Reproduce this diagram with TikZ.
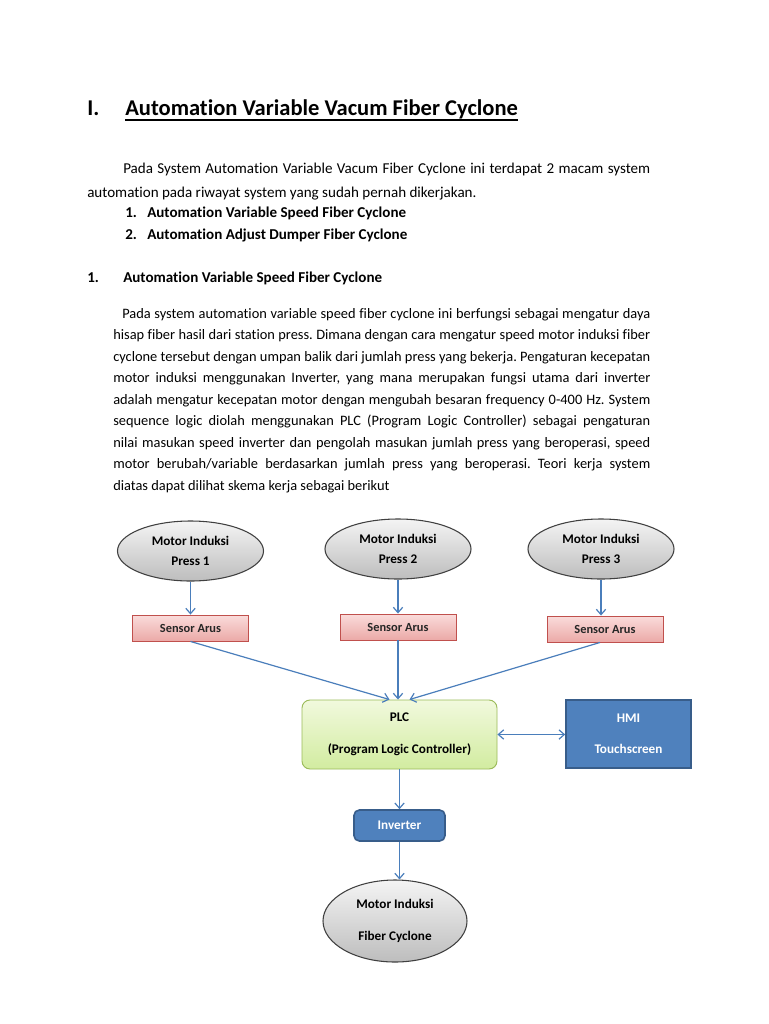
\documentclass[tikz,border=0pt]{standalone}
\usepackage{fontspec}
\setmainfont{Carlito}[Ligatures={NoCommon}]
\usetikzlibrary{shapes.geometric,arrows.meta}
\definecolor{arrblue}{HTML}{4A7EBB}
\definecolor{hmiblue}{HTML}{4F81BD}
\definecolor{hmiedge}{HTML}{385D8A}
\definecolor{senedge}{HTML}{C0504D}
\definecolor{sentop}{HTML}{FADCDB}
\definecolor{senbot}{HTML}{EBA9A7}
\definecolor{plctop}{HTML}{F1F9DD}
\definecolor{plcbot}{HTML}{D2ECA0}
\definecolor{plcedge}{HTML}{9BBB59}
\definecolor{elltop}{HTML}{F4F4F4}
\definecolor{ellbot}{HTML}{BDBDBD}
\newcommand\jline[1]{\hbox to\linewidth{#1}}
\frenchspacing
\begin{document}
\begin{tikzpicture}[x=0.75pt,y=-0.75pt,
  txt/.style={anchor=base west,inner sep=0pt,font=\fontsize{11.3}{16}\selectfont},
  btxt/.style={txt,font=\fontsize{11.3}{16}\selectfont\bfseries},
  para/.style={anchor=base west,inner sep=0pt,align=left},
  dfont/.style={font=\fontsize{9.3}{15}\selectfont\bfseries},
  efont/.style={font=\fontsize{9.9}{15}\selectfont\bfseries},
  ell/.style={ellipse,draw=black!75,line width=0.8pt,top color=elltop,bottom color=ellbot,
    minimum width=109.5pt,minimum height=45pt,inner sep=0pt,align=center,efont},
  sensor/.style={rectangle,draw=senedge,line width=0.7pt,top color=sentop,bottom color=senbot,
    minimum width=87pt,minimum height=19.5pt,inner sep=0pt,dfont,text=black!85},
  plcbox/.style={rectangle,rounded corners=6pt,draw=plcedge,line width=0.7pt,top color=plctop,bottom color=plcbot,
    minimum width=146.25pt,minimum height=51.75pt,inner sep=0pt,align=center,efont},
  bluebox/.style={rectangle,draw=hmiedge,line width=1.2pt,fill=hmiblue,text=white,inner sep=0pt,align=center,efont},
  arr/.style={draw=arrblue,line width=0.9pt,-{Straight Barb[length=4pt,width=7pt]}},
  darr/.style={draw=arrblue,line width=0.9pt,{Straight Barb[length=4pt,width=7pt]}-{Straight Barb[length=4pt,width=7pt]}}
]
\useasboundingbox (0,0) rectangle (768,1024);
\fill[white] (0,0) rectangle (768,1024);

% Title
\node[txt,font=\fontsize{16.9}{20}\selectfont\bfseries] (tnum) at (87,115) {I.};
\node[txt,font=\fontsize{16.9}{20}\selectfont\bfseries] (title) at (125,115) {Automation Variable Vacum Fiber Cyclone};
\draw[line width=1.1pt] ([yshift=-3.6pt]title.base west) -- ([yshift=-3.6pt]title.base east);

% Paragraph 1
\node[para,text width=422.25pt,font=\fontsize{11.3}{18}\selectfont] (p1) at (87,173)
 {\spaceskip=0.226em plus 1em minus 0.1em
 \jline{\hspace*{27pt}Pada System Automation Variable Vacum Fiber Cyclone ini terdapat 2 macam system}
 \hbox{automation pada riwayat system yang sudah pernah dikerjakan.}};

% List
\node[btxt] (l1n) at (125,217) {1.};
\node[btxt] (l1) at (147,217) {Automation Variable Speed Fiber Cyclone};
\node[btxt] (l2n) at (125,239) {2.};
\node[btxt] (l2) at (147,239) {Automation Adjust Dumper Fiber Cyclone};

% Heading
\node[btxt] (hn) at (87,282) {1.};
\node[btxt] (h) at (123,282) {Automation Variable Speed Fiber Cyclone};

% Paragraph 2
\node[para,text width=402.75pt,font=\fontsize{10.8}{16.125}\selectfont] (p2) at (113,318)
 {\spaceskip=0.226em plus 1em minus 0.08em
 \jline{\hspace*{6.75pt}Pada system automation variable speed fiber cyclone ini berfungsi sebagai mengatur daya}
 \jline{hisap fiber hasil dari station press. Dimana dengan cara mengatur speed motor induksi fiber}
 \jline{cyclone tersebut dengan umpan balik dari jumlah press yang bekerja. Pengaturan kecepatan}
 \jline{motor induksi menggunakan Inverter, yang mana merupakan fungsi utama dari inverter}
 \jline{adalah mengatur kecepatan motor dengan mengubah besaran frequency 0-400 Hz. System}
 \jline{sequence logic diolah menggunakan PLC (Program Logic Controller) sebagai pengaturan}
 \jline{nilai masukan speed inverter dan pengolah masukan jumlah press yang beroperasi, speed}
 \jline{motor berubah/variable berdasarkan jumlah press yang beroperasi. Teori kerja system}
 \hbox{diatas dapat dilihat skema kerja sebagai berikut}};

% Diagram
\node[ell] (m1) at (190.5,551) {Motor Induksi\\Press 1};
\node[ell] (m2) at (398,549) {Motor Induksi\\Press 2};
\node[ell] (m3) at (601,549) {Motor Induksi\\Press 3};

\node[sensor] (s1) at (190.5,628) {Sensor Arus};
\node[sensor] (s2) at (398,627) {Sensor Arus};
\node[sensor] (s3) at (605,629) {Sensor Arus};

\node[plcbox] (plc) at (399.5,734.5) {PLC\\[9pt](Program Logic Controller)};
\node[bluebox,minimum width=93.75pt,minimum height=51pt] (hmi) at (628.5,734) {HMI\\[8.5pt]Touchscreen};
\node[bluebox,rounded corners=4pt,minimum width=68.25pt,minimum height=23.25pt] (inv) at (399.5,825.5) {Inverter};
\node[ell,minimum width=108pt,minimum height=61.5pt] (mf) at (395,921) {Motor Induksi\\[8.5pt]Fiber Cyclone};

\draw[arr] (m1.south) -- (s1.north);
\draw[arr] (m2.south) -- (s2.north);
\draw[arr] (m3.south) -- (m3.south |- s3.north);

\draw[arr] (s1.south) -- ([xshift=-7.5pt]plc.north);
\draw[arr] (s2.south) -- (s2.south |- plc.north);
\draw[arr] ([xshift=-3.75pt]s3.south) -- ([xshift=7.5pt]plc.north);

\draw[darr] (plc.east) -- (plc.east -| hmi.west);
\draw[arr] (plc.south) -- (inv.north);
\draw[arr] (inv.south) -- (inv.south |- mf.north);
\end{tikzpicture}
\end{document}
